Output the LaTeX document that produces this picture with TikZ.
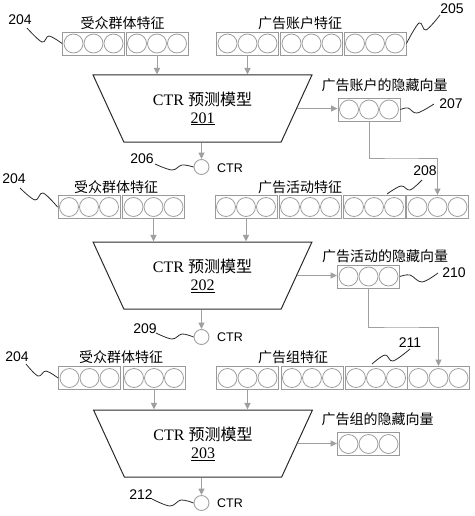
\documentclass[tikz,border=0pt]{standalone}
\usepackage{fontspec}
\setmainfont{Liberation Serif}
\setsansfont{Liberation Sans}
\newfontfamily\cjk{Noto Sans CJK SC}
\usetikzlibrary{arrows.meta,shapes.geometric,calc}

\definecolor{boxgray}{HTML}{9A9A9A}
\definecolor{linegray}{HTML}{A0A0A0}
\definecolor{inkdark}{HTML}{2A2A2A}

\tikzset{
  vecbox/.style={draw=boxgray, line width=0.9pt, minimum width=62pt, minimum height=23pt, inner sep=0pt},
  unit/.style={circle, draw=linegray, line width=0.8pt, minimum size=19pt, inner sep=0pt},
  arr/.style={draw=linegray, line width=1pt, -{Triangle[length=6.5pt,width=6pt]}},
  model/.style={trapezium, trapezium angle=60, trapezium stretches=true, shape border rotate=180,
    minimum width=219pt, minimum height=67pt, draw=inkdark, line width=1pt, align=center, inner sep=0pt,
    font=\fontsize{16}{18}\selectfont},
  feat/.style={font=\cjk\fontsize{14}{16}\selectfont, inner sep=0pt},
  num/.style={font=\sffamily\fontsize{14}{16}\selectfont, inner sep=0pt},
  ctrtext/.style={font=\sffamily\fontsize{12.5}{14}\selectfont, inner sep=0pt},
  ctr/.style={circle, draw=linegray, line width=0.9pt, minimum size=15pt, inner sep=0pt},
  sq/.style={draw=inkdark, line width=0.8pt},
}

\newcommand\vecbox[2]{%
  \node[vecbox] (#1) at (#2) {};
  \foreach \k/\n in {-1/a,0/b,1/c} \node[unit] (#1\n) at ($(#1.center)+(\k*20,0)$) {};
}

\begin{document}
\begin{tikzpicture}[x=1pt,y=-1pt]
\useasboundingbox (0,0) rectangle (474,516);

% ---------- Row 1 ----------
\vecbox{b11}{93.5,43.5}
\vecbox{b12}{157,43.5}
\vecbox{b13}{247.5,43.5}
\vecbox{b14}{311.5,43.5}
\vecbox{b15}{375,43.5}
\node[feat] (f11) at (122.5,23) {受众群体特征};
\node[feat] (f12) at (300,23) {广告账户特征};
\node[model] (m1) at (202.5,108.5) {CTR {\cjk 预测模型}\\\underline{201}};
\vecbox{h1}{369,109.5}
\node[feat] (hl1) at (384.5,85) {广告账户的隐藏向量};
\node[ctr] (c1) at (201.5,167) {};
\node[ctrtext] (t1) at (230,168) {CTR};
\node[num] (n204a) at (20,20) {204};
\node[num] (n205) at (452,9) {205};
\node[num] (n207) at (451,104) {207};
\node[num] (n206) at (142,159) {206};

\draw[arr] (b12.south) -- (b12.south |- m1.north);
\draw[arr] (b13.south) -- (b13.south |- m1.north);
\draw[arr] (m1.east) -- (m1.east -| h1.west);
\draw[arr] (c1.north |- m1.south) -- (c1.north);

\draw[sq] plot[smooth, tension=0.6] coordinates {(27,28) (42,42) (49,36) (b11.west)};
\draw[sq] plot[smooth, tension=0.6] coordinates {(440,15) (426,30) (419,23) (b15.east)};
\draw[sq] plot[smooth, tension=0.6] coordinates {(h1.east) (408,108) (417,113) (434,104)};
\draw[sq] plot[smooth, tension=0.6] coordinates {(155,164) (172,170) (182,165) (c1.west)};

% ---------- Row 2 ----------
\vecbox{b21}{89,207}
\vecbox{b22}{153.5,207}
\vecbox{b23}{246,207}
\vecbox{b24}{310,207}
\vecbox{b25}{374,207}
\vecbox{b26}{437.5,207}
\node[feat] (f21) at (116,187) {受众群体特征};
\node[feat] (f22) at (300,187) {广告活动特征};
\node[model] (m2) at (202.5,275.5) {CTR {\cjk 预测模型}\\\underline{202}};
\vecbox{h2}{368.5,276.5}
\node[feat] (hl2) at (385,256) {广告活动的隐藏向量};
\node[ctr] (c2) at (201.5,337) {};
\node[ctrtext] (t2) at (230,337) {CTR};
\node[num] (n208) at (425,171) {208};
\node[num] (n204b) at (14,179) {204};
\node[num] (n210) at (454,273) {210};
\node[num] (n209) at (145,329) {209};

\draw[arr] (b22.south) -- (b22.south |- m2.north);
\draw[arr] (b23.south) -- (b23.south |- m2.north);
\draw[arr] (m2.east) -- (m2.east -| h2.west);
\draw[arr] (c2.north |- m2.south) -- (c2.north);

\draw[sq] plot[smooth, tension=0.6] coordinates {(422,180) (410,190) (401,186) (387,194)};
\draw[sq] plot[smooth, tension=0.6] coordinates {(20,188) (35,200) (43,193) (b21.west)};
\draw[sq] plot[smooth, tension=0.6] coordinates {(h2.east) (410,275) (422,282) (438,273)};
\draw[sq] plot[smooth, tension=0.6] coordinates {(156,333) (172,339) (182,334) (c2.west)};

% ---------- Row 3 ----------
\vecbox{b31}{89.5,378}
\vecbox{b32}{154,378}
\vecbox{b33}{247.5,378}
\vecbox{b34}{312,378}
\vecbox{b35}{376,378}
\vecbox{b36}{438.5,378}
\node[feat] (f31) at (121,357.5) {受众群体特征};
\node[feat] (f32) at (293,357.5) {广告组特征};
\node[model] (m3) at (203,443.5) {CTR {\cjk 预测模型}\\\underline{203}};
\vecbox{h3}{368.5,444}
\node[feat] (hl3) at (377.5,419) {广告组的隐藏向量};
\node[ctr] (c3) at (201.5,503) {};
\node[ctrtext] (t3) at (230,503) {CTR};
\node[num] (n204c) at (17,357) {204};
\node[num] (n211) at (410,343) {211};
\node[num] (n212) at (141,495) {212};

\draw[arr] (b32.south) -- (b32.south |- m3.north);
\draw[arr] (b33.south) -- (b33.south |- m3.north);
\draw[arr] (m3.east) -- (m3.east -| h3.west);
\draw[arr] (c3.north |- m3.south) -- (c3.north);

\draw[sq] plot[smooth, tension=0.6] coordinates {(26,364) (38,376) (46,371) (b31.west)};
\draw[sq] plot[smooth, tension=0.6] coordinates {(410,349) (393,361) (385,355) (372,364)};
\draw[sq] plot[smooth, tension=0.6] coordinates {(152,499) (170,506) (181,500) (c3.west)};

% ---------- feedback of hidden vectors ----------
\coordinate (j1) at (400,158);
\draw[arr] (h1.south) |- (j1) -| (b26.north);
\coordinate (j2) at (400,327);
\draw[arr] (h2.south) |- (j2) -| (b36.north);
\end{tikzpicture}
\end{document}
